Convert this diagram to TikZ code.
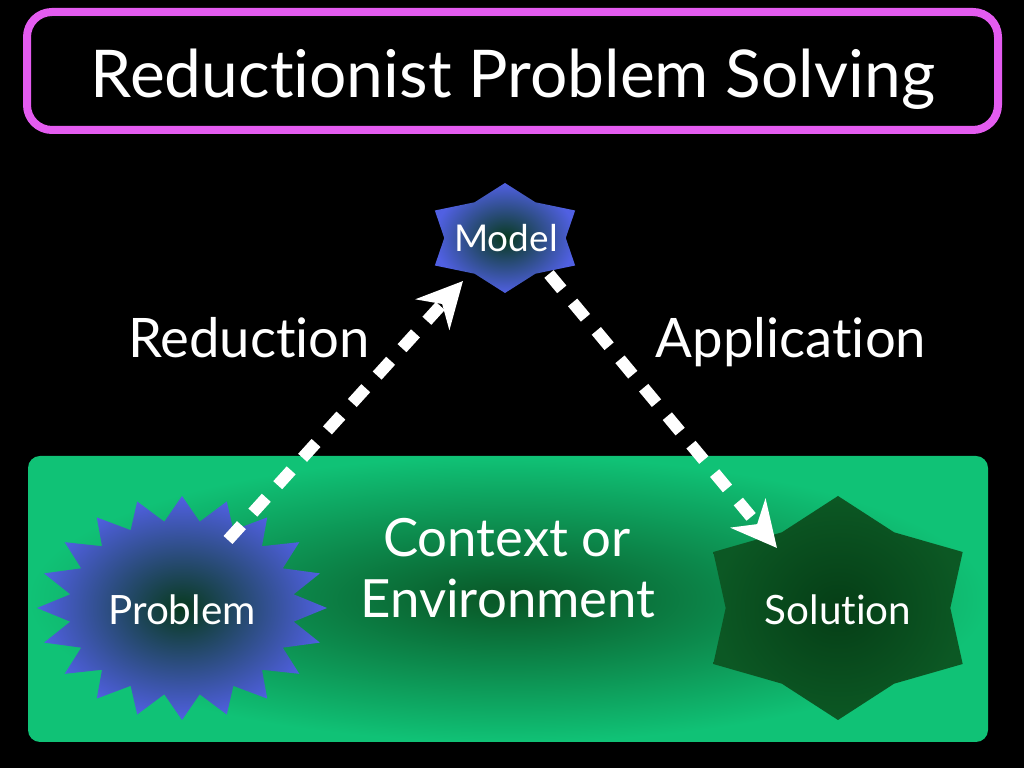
\documentclass[tikz,border=0pt]{standalone}
\usepackage{fontspec}
\setmainfont{Lato}[Ligatures=NoCommon]
\usetikzlibrary{arrows.meta}

\definecolor{pinkline}{RGB}{228,92,240}
\definecolor{starblue}{RGB}{80,96,226}
\definecolor{deepgreen}{RGB}{8,58,30}
\definecolor{ctxlight}{RGB}{16,194,118}
\definecolor{ctxdark}{RGB}{9,86,38}
\definecolor{solgreen}{RGB}{12,88,36}
\definecolor{solcore}{RGB}{5,62,22}

\pgfdeclareverticalshading{titleglow}{100bp}{color(0bp)=(black); color(72bp)=(black); color(88bp)=(black!62); color(100bp)=(black!35)}

% star outline: center, points, rx, ry, inner ratio, style
\newcommand\starblob[6]{%
  \pgfmathtruncatemacro\lastk{2*#2-1}%
  \path[#6, shift={(#1)}] plot[samples at={0,...,\lastk}, variable=\k]
    ({(iseven(\k) ? 1 : #5)*#3*cos(90+180*\k/#2)},
     {(iseven(\k) ? 1 : #5)*#4*sin(90+180*\k/#2)}) -- cycle;}

\begin{document}
\begin{tikzpicture}[x=0.2mm, y=-0.2mm,
  lbl/.style={text=white, anchor=base, inner sep=0pt},
  huge/.style={lbl, font=\fontsize{37.5}{45}\selectfont},
  large/.style={lbl, font=\fontsize{31}{37}\selectfont},
  small/.style={lbl, font=\fontsize{23}{28}\selectfont},
  flow/.style={draw=white, line width=2.4mm, dash pattern=on 4mm off 3.4mm,
    -{Stealth[length=9mm, width=9mm, inset=2.8mm]}}]

  % backdrop
  \fill[black] (0,0) rectangle (1024,768);

  % title bar
  \path[shading=titleglow, draw=pinkline, line width=1.6mm, rounded corners=5mm]
    (27,12) rectangle (998,130);
  \node[huge] (title) at (513,98) {Reductionist Problem Solving};

  % context box
  \path[shading=radial, inner color=ctxdark, outer color=ctxlight, rounded corners=2.4mm]
    (28,456) rectangle (988,742);
  \node[large, font=\fontsize{30}{36}\selectfont] (ctx) at (507,557) {Context or};
  \node[large, font=\fontsize{30}{36}\selectfont] (env) at (508,618) {Environment};

  % the three stars
  \starblob{505,238}{6}{81}{55}{0.75}{shading=radial, inner color=deepgreen, outer color=starblue}
  \starblob{182,608}{20}{145}{112}{0.78}{shading=radial, inner color=deepgreen, outer color=starblue}
  \starblob{838,608}{6}{144}{112}{0.78}{shading=radial, inner color=solcore, outer color=solgreen}
  \node[small, font=\fontsize{21}{26}\selectfont] (model) at (506,252) {Model};
  \node[small] (problem) at (182,625) {Problem};
  \node[small] (solution) at (838,625) {Solution};

  % arrows
  \coordinate (red-from) at (228,540);
  \coordinate (red-to) at (463,281);
  \coordinate (app-from) at (549,274);
  \coordinate (app-to) at (777,548);
  \draw[flow] (red-from) -- (red-to);
  \draw[flow] (app-from) -- (app-to);

  \node[large] (reduction) at (249,358) {Reduction};
  \node[large] (application) at (791,358) {Application};
\end{tikzpicture}
\end{document}
